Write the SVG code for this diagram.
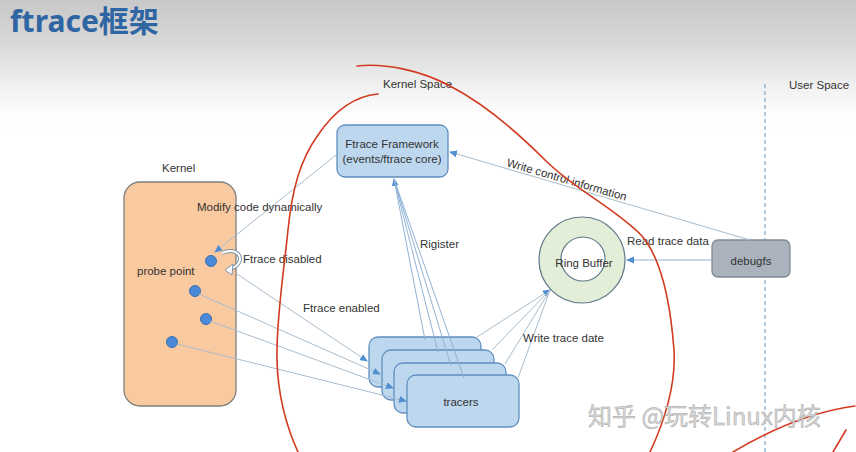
<svg xmlns="http://www.w3.org/2000/svg" width="856" height="452" viewBox="0 0 856 452">
<defs>
<linearGradient id="bg" x1="0" y1="0" x2="0" y2="1">
<stop offset="0" stop-color="#c8c8c8"/>
<stop offset="0.1" stop-color="#d9d9d9"/>
<stop offset="0.18" stop-color="#eeeeee"/>
<stop offset="0.25" stop-color="#fdfdfd"/>
<stop offset="0.3" stop-color="#ffffff"/>
</linearGradient>
<marker id="arr" markerWidth="8" markerHeight="8" refX="7" refY="4" orient="auto" markerUnits="userSpaceOnUse">
<path d="M0,0.5 L8,4 L0,7.5 Z" fill="#4f8fd0"/>
</marker>
</defs>
<style>
.lbl{font-family:"Liberation Sans",Arial,sans-serif;font-size:11.5px;fill:#333}
.ln{stroke:#a9bccc;stroke-width:1;fill:none}
.lnb{stroke:#8fb3d6;stroke-width:1;fill:none}
.box{fill:#bdd7ee;stroke:#5f8fbf;stroke-width:1.3}
.dot{fill:#4a8ad8;stroke:#3a70b0;stroke-width:1}
.red{stroke:#d23a1f;stroke-width:1.6;fill:none;stroke-linecap:round}
</style>
<rect x="0" y="0" width="856" height="452" fill="url(#bg)"/>
<text x="10" y="32" font-family="'Noto Sans','Noto Sans CJK SC',sans-serif" font-weight="bold" font-size="30" fill="#2f65a3">ftrace框架</text>

<text class="lbl" x="383" y="88">Kernel Space</text>
<text class="lbl" x="789" y="89">User Space</text>
<line x1="765" y1="84" x2="765" y2="452" stroke="#7fa8cc" stroke-width="1.2" stroke-dasharray="4,3"/>

<g id="kernel">
<text class="lbl" x="162" y="172">Kernel</text>
<rect x="124" y="182" width="112" height="224" rx="16" fill="#f9c9a0" stroke="#7f7f7f" stroke-width="1.3"/>
<text class="lbl" x="137" y="275" fill="#3a2a1a">probe point</text>
<circle class="dot" cx="211" cy="261" r="5.5"/>
<circle class="dot" cx="195" cy="291" r="5.5"/>
<circle class="dot" cx="206" cy="319" r="5.5"/>
<circle class="dot" cx="172" cy="342" r="5.5"/>
</g>

<g id="framework">
<rect class="box" x="337" y="125" width="111" height="52" rx="8"/>
<text class="lbl" x="392" y="148" text-anchor="middle">Ftrace Framework</text>
<text class="lbl" x="392" y="163" text-anchor="middle">(events/ftrace core)</text>
</g>

<g id="ringbuffer">
<circle cx="582" cy="260" r="43" fill="#e2eed8" stroke="#5e7888" stroke-width="1.2"/>
<circle cx="583" cy="259" r="22" fill="#ffffff" stroke="#5e7888" stroke-width="1.2"/>
<text class="lbl" x="584" y="267" text-anchor="middle">Ring Buffer</text>
</g>

<g id="debugfs">
<rect x="712" y="240" width="78" height="37" rx="6" fill="#aab3bd" stroke="#7f8a95" stroke-width="1.3"/>
<text class="lbl" x="751" y="265" text-anchor="middle">debugfs</text>
</g>

<g id="tracers">
<rect class="box" x="369" y="337" width="112" height="50" rx="9"/>
<rect class="box" x="382" y="350" width="112" height="50" rx="9"/>
<rect class="box" x="394" y="363" width="112" height="50" rx="9"/>
<rect class="box" x="407" y="375" width="112" height="52" rx="9"/>
<text class="lbl" x="461" y="406" text-anchor="middle">tracers</text>
</g>

<g id="connectors">
<line class="ln" x1="336" y1="155" x2="215" y2="252" marker-end="url(#arr)"/>
<path d="M222,253 C236,246 246,258 236,266 L231,269" stroke="#7f95a8" stroke-width="4" fill="none"/>
<path d="M222,253 C236,246 246,258 236,266 L231,269" stroke="#ffffff" stroke-width="2" fill="none"/>
<path d="M225,270 L233,264 L232,275 Z" fill="#ffffff" stroke="#7f95a8" stroke-width="1"/>
<line class="ln" x1="237" y1="274" x2="367" y2="361" marker-end="url(#arr)"/>
<line class="ln" x1="199" y1="294" x2="380" y2="374" marker-end="url(#arr)"/>
<line class="ln" x1="210" y1="321" x2="393" y2="388" marker-end="url(#arr)"/>
<line class="ln" x1="177" y1="344" x2="406" y2="401" marker-end="url(#arr)"/>
<line class="lnb" x1="425" y1="340" x2="394" y2="179" marker-end="url(#arr)"/>
<line class="lnb" x1="438" y1="352" x2="394" y2="179"/>
<line class="lnb" x1="451" y1="366" x2="394" y2="179"/>
<line class="lnb" x1="464" y1="378" x2="394" y2="179"/>
<line class="ln" x1="477" y1="337" x2="550" y2="290" marker-end="url(#arr)"/>
<line class="ln" x1="492" y1="350" x2="550" y2="290"/>
<line class="ln" x1="505" y1="364" x2="550" y2="290"/>
<line class="ln" x1="518" y1="378" x2="550" y2="290"/>
<line class="lnb" x1="712" y1="260" x2="627" y2="260" marker-end="url(#arr)"/>
<line class="ln" x1="750" y1="240" x2="450" y2="152" marker-end="url(#arr)"/>
<text class="lbl" x="197" y="211">Modify code dynamically</text>
<text class="lbl" x="243" y="263">Ftrace disabled</text>
<text class="lbl" x="303" y="312">Ftrace enabled</text>
<text class="lbl" x="420" y="248">Rigister</text>
<text class="lbl" x="523" y="342">Write trace date</text>
<text class="lbl" x="627" y="245">Read trace data</text>
<text class="lbl" x="506" y="166" transform="rotate(16.3 506 166)">Write control information</text>
</g>

<path class="red" d="M357,66 C385,63 420,70 450,86 C485,104 515,130 545,160 C575,190 615,208 642,236 C664,262 671,310 674,350 C676,385 665,420 650,452"/>
<path class="red" d="M378,94 C355,96 335,110 318,135 C300,160 292,190 288,230 C284,270 276,320 277,360 C278,400 288,430 298,452"/>
<path class="red" d="M733,452 C770,430 810,412 855,406"/>
<path class="red" d="M833,452 L846,430"/>

<text x="588" y="425" font-family="'Noto Sans CJK SC','Noto Sans',sans-serif" font-size="24" fill="#d8d8d8" stroke="#a8a8a8" stroke-width="0.5">知乎 @玩转Linux内核</text>
</svg>
